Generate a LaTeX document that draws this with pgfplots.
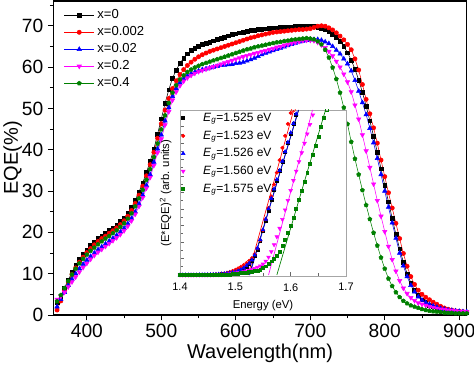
\documentclass[border=0pt]{standalone}
\usepackage{fontspec}
\setmainfont{Liberation Sans}
\usepackage{pgfplots}
\usepackage{pgfplotstable}
\pgfplotsset{compat=1.18}
\definecolor{cgreen}{RGB}{0,128,0}
\definecolor{cmag}{RGB}{255,0,255}
\pgfplotstableread{
nm b r bl m g
360 3.0 1.2 2.0 3.8 3.3
365 4.6 3.4 3.8 4.5 4.8
370 6.5 5.8 5.5 5.5 6.5
375 8.5 8.0 7.2 6.8 8.2
380 10.3 9.8 8.7 8.0 9.8
385 12.0 11.4 10.0 9.2 11.2
390 13.5 12.8 11.2 10.4 12.5
395 14.7 14.0 12.3 11.5 13.6
400 15.8 15.1 13.3 12.5 14.6
405 16.8 16.1 14.2 13.5 15.5
410 17.7 17.0 15.0 14.4 16.3
415 18.5 17.8 15.8 15.2 17.1
420 19.2 18.5 16.5 15.9 17.8
425 19.8 19.1 17.2 16.6 18.5
430 20.5 19.8 17.9 17.3 19.1
435 21.1 20.4 18.6 18.0 19.8
440 21.8 21.1 19.3 18.7 20.5
445 22.6 21.9 20.1 19.5 21.3
450 23.5 22.8 21.0 20.4 22.2
455 24.6 23.9 22.1 21.5 23.3
460 26.0 25.3 23.4 22.8 24.6
465 27.8 27.0 25.0 24.4 26.3
470 29.8 29.0 26.9 26.3 28.2
475 32.0 31.2 29.0 28.4 30.3
480 34.5 33.7 31.4 30.7 32.7
485 37.2 36.4 34.0 33.3 35.3
490 40.2 39.4 37.0 36.2 38.2
495 43.8 42.8 40.2 39.3 41.5
500 47.5 46.3 43.6 42.6 44.9
505 51.2 49.6 47.0 46.0 48.3
510 54.5 52.4 50.2 49.2 51.3
515 57.3 54.8 52.9 52.0 53.8
520 59.3 56.7 54.8 54.0 55.6
525 60.9 58.2 56.2 55.5 57.0
530 62.2 59.4 57.2 56.6 58.0
535 63.2 60.4 57.9 57.4 58.8
540 64.0 61.2 58.4 58.0 59.4
545 64.6 61.9 58.8 58.5 59.9
550 65.1 62.5 59.1 58.9 60.3
555 65.5 63.0 59.4 59.2 60.7
560 65.8 63.4 59.6 59.5 61.0
565 66.1 63.8 59.8 59.8 61.3
570 66.4 64.1 60.0 60.1 61.6
575 66.7 64.4 60.2 60.4 61.9
580 67.0 64.7 60.4 60.7 62.2
585 67.3 65.0 60.5 61.0 62.5
590 67.6 65.3 60.6 61.3 62.8
595 67.9 65.6 60.7 61.6 63.1
600 68.1 65.9 60.9 61.9 63.4
605 68.3 66.2 61.0 62.2 63.7
610 68.5 66.5 61.2 62.5 64.0
615 68.7 66.8 61.5 62.8 64.3
620 68.9 67.1 61.8 63.0 64.5
625 69.0 67.3 62.2 63.3 64.8
630 69.1 67.6 62.6 63.5 65.0
635 69.2 67.8 63.0 63.8 65.2
640 69.3 68.0 63.4 64.0 65.4
645 69.4 68.2 63.7 64.3 65.6
650 69.5 68.4 64.0 64.5 65.8
655 69.5 68.5 64.3 64.8 66.0
660 69.6 68.6 64.6 65.0 66.1
665 69.6 68.7 64.9 65.3 66.3
670 69.7 68.8 65.2 65.5 66.4
675 69.7 68.9 65.5 65.8 66.6
680 69.8 69.0 65.8 66.0 66.7
685 69.8 69.1 66.1 66.2 66.8
690 69.9 69.1 66.3 66.4 66.9
695 69.9 69.2 66.5 66.5 67.0
700 69.9 69.3 66.6 66.5 66.9
705 69.9 69.6 66.7 66.4 66.7
710 69.7 69.9 66.7 66.0 66.2
715 69.4 70.0 66.5 65.4 65.5
720 69.1 69.9 66.1 64.7 64.2
725 68.7 69.5 65.7 63.8 62.3
730 68.0 69.0 65.0 62.7 59.9
735 67.2 68.3 64.1 61.4 57.1
740 66.3 67.5 63.2 60.0 53.8
745 65.0 66.6 62.0 58.3 50.2
750 63.5 65.5 60.8 56.4 46.2
755 61.7 64.2 59.1 54.0 41.9
760 59.5 62.0 56.8 50.8 37.8
765 56.9 59.3 54.2 47.4 34.0
770 53.9 55.8 51.4 43.6 30.2
775 50.6 52.2 48.5 39.7 26.6
780 47.0 48.7 45.2 35.7 23.2
785 43.3 45.3 41.7 31.7 19.9
790 39.4 41.6 37.9 27.7 16.8
795 35.4 37.5 34.0 23.9 13.9
800 31.4 33.5 30.0 20.2 11.2
805 27.4 29.6 26.1 16.6 8.8
810 23.4 25.9 22.3 13.4 7.0
815 19.5 22.2 18.6 10.6 5.5
820 16.0 18.5 15.0 8.3 4.3
825 12.8 14.9 11.9 6.5 3.4
830 10.0 11.8 9.3 5.2 2.8
835 7.8 9.3 7.2 4.2 2.3
840 6.0 7.4 5.6 3.5 2.0
845 4.7 6.0 4.4 2.9 1.7
850 3.7 5.0 3.6 2.6 1.4
855 3.0 4.3 3.0 2.3 1.2
860 2.4 3.7 2.6 2.0 1.0
865 2.0 3.1 2.2 1.8 0.9
870 1.7 2.6 1.9 1.6 0.8
875 1.4 2.1 1.6 1.4 0.7
880 1.2 1.7 1.4 1.3 0.6
885 1.1 1.4 1.2 1.2 0.5
890 1.0 1.2 1.1 1.1 0.5
895 0.9 1.0 1.0 1.0 0.4
900 0.8 0.9 0.9 0.9 0.4
905 0.7 0.8 0.8 0.9 0.4
910 0.7 0.7 0.8 0.8 0.4
}\maindata
\pgfplotstableread{
E b r bl
1.400 0 0 0
1.405 0 0 0
1.410 0 0 0
1.415 0 0 0
1.420 0 0 0
1.425 0 0 0
1.430 0 0.1 0
1.435 0.1 0.1 0.1
1.440 0.1 0.2 0.1
1.445 0.2 0.2 0.2
1.450 0.2 0.3 0.2
1.455 0.3 0.4 0.3
1.460 0.4 0.5 0.4
1.465 0.5 0.7 0.5
1.470 0.6 0.9 0.7
1.475 0.8 1.2 0.9
1.480 1.1 1.6 1.2
1.485 1.4 2.2 1.6
1.490 1.8 3.0 2.0
1.495 2.3 4.0 2.5
1.500 2.8 5.2 3.1
1.505 3.6 6.6 4.0
1.510 4.8 8.2 5.3
1.515 6.4 10.0 7.0
1.520 8.5 12.0 9.2
1.525 11.0 14.3 11.8
1.530 14.2 17.0 15.0
1.535 19.0 21.0 20.0
1.540 25.8 27.0 27.0
1.545 34.0 35.0 35.5
1.550 44.0 45.0 45.5
1.555 54.5 56.0 56.0
1.560 65.0 67.5 66.5
1.565 75.5 79.0 77.0
1.570 85.5 91.0 86.5
1.575 95.0 103.0 96.0
1.580 104.5 115.5 105.0
1.585 114.0 128.0 114.5
1.590 123.5 140.0 124.0
1.595 133.0 152.0 133.5
1.600 142.5 163.0 143.0
1.605 152.0 nan 152.5
1.610 161.5 nan 162.0
}\insetA
\pgfplotstableread{
E m g
1.400 0 0
1.405 0 0
1.410 0 0
1.415 0 0
1.420 0 0
1.425 0 0
1.430 0 0
1.435 0 0
1.440 0 0
1.445 0 0
1.450 0.1 0
1.455 0.1 0.1
1.460 0.1 0.1
1.465 0.2 0.1
1.470 0.2 0.2
1.475 0.3 0.2
1.480 0.5 0.2
1.485 0.8 0.3
1.490 1.1 0.5
1.495 1.5 0.8
1.500 2.0 1.1
1.505 2.4 1.4
1.510 2.9 1.8
1.515 3.4 2.2
1.520 4.0 2.6
1.525 4.8 3.0
1.530 5.7 3.5
1.535 6.7 3.9
1.540 7.8 4.4
1.545 9.2 5.5
1.550 11.0 7.0
1.555 14.0 8.8
1.560 18.0 11.0
1.565 23.5 13.8
1.570 30.5 16.8
1.575 38.5 19.8
1.580 47.0 23.0
1.585 56.0 29.0
1.590 65.5 35.5
1.595 75.0 42.5
1.600 85.0 50.0
1.605 95.0 58.0
1.610 104.5 66.5
1.615 114.0 75.5
1.620 123.0 85.0
1.625 132.5 94.0
1.630 142.0 103.0
1.635 151.5 112.0
1.640 161.0 121.0
1.645 nan 130.0
1.650 nan 139.5
1.655 nan 149.0
1.660 nan 158.0
}\insetB
\begin{document}
\begin{tikzpicture}
\begin{axis}[
  name=main,
  scale only axis, width=310pt, height=235.5pt,
  xmin=355, xmax=910, ymin=0, ymax=76,
  xtick={400,500,...,900}, minor xtick={450,550,...,850},
  ytick={0,10,...,70}, minor ytick={5,15,...,75},
  xtick pos=left, ytick pos=left, tick align=outside,
  major tick length=4pt, minor tick length=2.5pt,
  axis line style={line width=0.8pt}, every tick/.style={black, line width=0.7pt},
  /pgf/number format/assume math mode=true,
  tick label style={font=\fontsize{14.4}{16}\selectfont},
  xticklabel style={yshift=1pt},
  label style={font=\fontsize{15}{18}\selectfont},
  xlabel={Wavelength(nm)}, ylabel={EQE(\%)},
  xlabel style={yshift=1.5pt}, ylabel style={yshift=-7pt},
  legend cell align=left,
  legend style={draw=none, fill=none, at={(0.015,0.99)}, anchor=north west,
    font=\fontsize{9.8}{11}\selectfont, row sep=0.4pt},
  legend image code/.code={\draw[mark repeat=2,mark phase=2,#1] plot coordinates {(0cm,0cm) (0.4cm,0cm) (0.8cm,0cm)};},
  every axis plot/.append style={line width=0.4pt},
]
\addplot[black, mark=square*, mark size=1.4pt] table[x=nm,y=b]{\maindata};
\addlegendentry{x=0}
\addplot[red, mark=*, mark size=1.6pt] table[x=nm,y=r]{\maindata};
\addlegendentry{x=0.002}
\addplot[blue, mark=triangle*, mark size=1.9pt] table[x=nm,y=bl]{\maindata};
\addlegendentry{x=0.02}
\addplot[cmag, mark=triangle*, mark options={rotate=180}, mark size=1.9pt] table[x=nm,y=m]{\maindata};
\addlegendentry{x=0.2}
\addplot[cgreen, mark=pentagon*, mark size=1.6pt] table[x=nm,y=g]{\maindata};
\addlegendentry{x=0.4}
\end{axis}
\begin{axis}[
  at={(95pt,29.25pt)}, anchor=south west,
  scale only axis, width=124.5pt, height=124.5pt,
  xmin=1.4, xmax=1.7, ymin=-1, ymax=166,
  axis background/.style={fill=white},
  axis line style={gray!70, line width=0.6pt},
  xtick={1.4,1.5,1.6,1.7}, minor x tick num=1,
  ytick={0,16.6,...,166}, minor y tick num=1, yticklabels={},
  xtick pos=left, ytick pos=left, tick align=inside,
  major tick length=3pt, minor tick length=2pt,
  every tick/.style={gray!80!black, line width=0.5pt},
  /pgf/number format/assume math mode=true,
  /pgf/number format/fixed, /pgf/number format/precision=1, /pgf/number format/fixed zerofill,
  tick label style={font=\fontsize{8.2}{9}\selectfont},
  xticklabel style={yshift=-2pt},
  label style={font=\fontsize{8.5}{10}\selectfont},
  xlabel={Energy (eV)}, ylabel={(E*EQE)\textsuperscript{2} (arb. units)},
  xlabel style={yshift=0pt}, ylabel style={yshift=-4pt},
  legend cell align=left,
  legend image code/.code={\path (-0.07cm,0cm) (0.45cm,0cm); \draw[#1] plot coordinates {(0cm,0cm)};},
  legend style={draw=none, fill=none, inner sep=0pt, at={(0.0,1.0)}, anchor=north west,
    font=\fontsize{9}{11}\selectfont, row sep=1.5pt},
]
\addplot[black, only marks, mark=square*, mark size=1.1pt] table[x=E,y=b]{\insetA};
\addlegendentry{\textit{E}\textsubscript{\textit{g}}=1.525 eV}
\addplot[red, only marks, mark=*, mark size=1.3pt] table[x=E,y=r]{\insetA};
\addlegendentry{\textit{E}\textsubscript{\textit{g}}=1.523 eV}
\addplot[blue, only marks, mark=triangle*, mark size=1.6pt] table[x=E,y=bl]{\insetA};
\addlegendentry{\textit{E}\textsubscript{\textit{g}}=1.526 eV}
\addplot[cmag, only marks, mark=triangle*, mark options={rotate=180}, mark size=1.6pt] table[x=E,y=m]{\insetB};
\addlegendentry{\textit{E}\textsubscript{\textit{g}}=1.560 eV}
\addplot[cgreen, only marks, mark=square*, mark size=1.1pt] table[x=E,y=g]{\insetB};
\addlegendentry{\textit{E}\textsubscript{\textit{g}}=1.575 eV}
\addplot[black, line width=0.5pt, forget plot] coordinates {(1.525,0) (1.6145,166)};
\addplot[red, line width=0.5pt, forget plot] coordinates {(1.523,0) (1.6055,166)};
\addplot[blue, line width=0.5pt, forget plot] coordinates {(1.526,0) (1.614,166)};
\addplot[cmag, line width=0.5pt, forget plot] coordinates {(1.560,0) (1.6395,166)};
\addplot[cgreen, line width=0.5pt, forget plot] coordinates {(1.575,0) (1.663,166)};
\addplot[red, only marks, mark=o, mark size=1.5pt, line width=0.4pt, clip mode=individual, forget plot] coordinates {(1.605,166)};
\addplot[cgreen, only marks, mark=square, mark size=1.3pt, line width=0.4pt, clip mode=individual, forget plot] coordinates {(1.665,166)};
\end{axis}
\pgfresetboundingbox
\path (-40pt,-39.75pt) rectangle (315.5pt,236.25pt);
\end{tikzpicture}
\end{document}
